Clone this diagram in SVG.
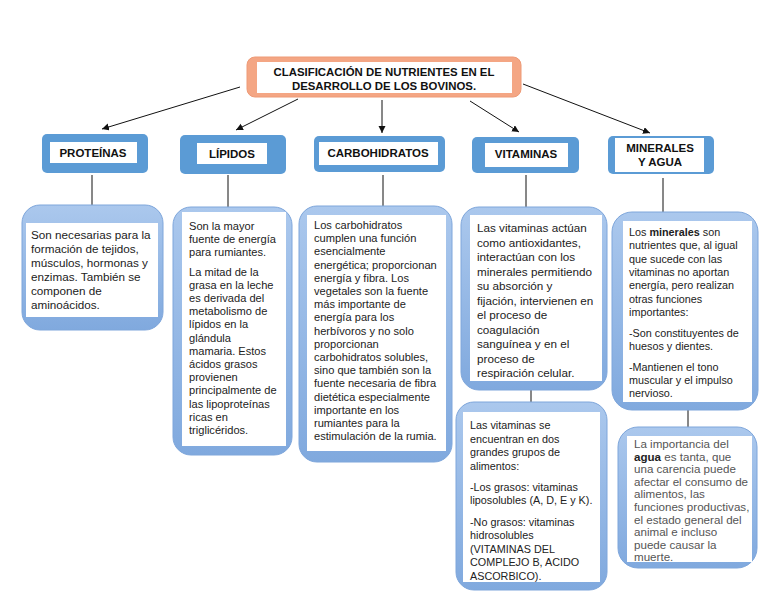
<svg xmlns="http://www.w3.org/2000/svg" width="768" height="594" viewBox="0 0 768 594">
<defs>
<linearGradient id="gb" x1="0" y1="0" x2="0" y2="1">
<stop offset="0" stop-color="#abc8ed"/>
<stop offset="1" stop-color="#80a9de"/>
</linearGradient>
<marker id="ah" markerWidth="8" markerHeight="8" refX="7" refY="3.5" orient="auto" markerUnits="userSpaceOnUse">
<path d="M0,0 L7,3.5 L0,7 Z" fill="#111"/>
</marker>
<style>
text{font-family:"Liberation Sans",Arial,Helvetica,sans-serif;fill:#222}
.h{font-weight:bold;font-size:11.5px;text-anchor:middle;fill:#111}
.t{font-weight:bold;font-size:11.4px;text-anchor:middle;fill:#111}
.hb{fill:#5b9bd5}
.w{fill:#fff}
.cb{fill:url(#gb);stroke:#7ea6db;stroke-width:1}
.b1{font-size:11.7px}
.b2{font-size:10.8px}
.b3{font-size:11.1px}
.ag{fill:#555;font-size:11.6px}
.ln{stroke:#111;stroke-width:1;fill:none}
</style>
</defs>
<rect width="768" height="594" fill="#fff"/>

<g id="connectors">
<line class="ln" x1="240" y1="87" x2="102" y2="129" marker-end="url(#ah)"/>
<line class="ln" x1="298" y1="99" x2="236" y2="130" marker-end="url(#ah)"/>
<line class="ln" x1="382" y1="100" x2="382" y2="133" marker-end="url(#ah)"/>
<line class="ln" x1="470" y1="101" x2="519" y2="132" marker-end="url(#ah)"/>
<line class="ln" x1="523" y1="84" x2="650" y2="133" marker-end="url(#ah)"/>
<line class="ln" x1="92" y1="175" x2="92" y2="205"/>
<line class="ln" x1="228" y1="175" x2="228" y2="207"/>
<line class="ln" x1="383" y1="175" x2="383" y2="206"/>
<line class="ln" x1="526" y1="175" x2="526" y2="207"/>
<line class="ln" x1="663" y1="178" x2="663" y2="212"/>
<line class="ln" x1="531" y1="390" x2="531" y2="403" stroke-width="0.8"/>
<line class="ln" x1="688" y1="408" x2="688" y2="427" stroke-width="0.8"/>
</g>

<g id="title">
<rect x="247" y="57" width="274" height="40" rx="8" fill="#f4a684" stroke="#ee9a76"/>
<rect x="257" y="62" width="255" height="31" class="w"/>
<text class="t" x="384" y="76">CLASIFICACIÓN DE NUTRIENTES EN EL</text>
<text class="t" x="384" y="90">DESARROLLO DE LOS BOVINOS.</text>
</g>

<g id="h-proteinas">
<rect x="42" y="134" width="106" height="39" rx="5" class="hb"/>
<rect x="50" y="142" width="87" height="21" class="w"/>
<text class="h" x="93" y="157">PROTEÍNAS</text>
</g>
<g id="h-lipidos">
<rect x="180" y="135" width="106" height="39" rx="5" class="hb"/>
<rect x="197" y="143" width="70" height="21" class="w"/>
<text class="h" x="232" y="158">LÍPIDOS</text>
</g>
<g id="h-carbohidratos">
<rect x="314" y="136" width="131" height="36" rx="5" class="hb"/>
<rect x="319" y="142" width="119" height="23" class="w"/>
<text class="h" x="378" y="157">CARBOHIDRATOS</text>
</g>
<g id="h-vitaminas">
<rect x="472" y="137" width="107" height="36" rx="5" class="hb"/>
<rect x="485" y="143" width="83" height="24" class="w"/>
<text class="h" x="526" y="158">VITAMINAS</text>
</g>
<g id="h-minerales">
<rect x="608" y="136" width="106" height="38" rx="5" class="hb"/>
<rect x="615" y="138" width="89" height="34" class="w"/>
<text class="h" x="660" y="152">MINERALES</text>
<text class="h" x="660" y="166">Y AGUA</text>
</g>

<g id="c-proteinas">
<rect x="22" y="205" width="141" height="125" rx="18" class="cb"/>
<rect x="26" y="223" width="132" height="94" class="w"/>
<text class="b1"><tspan x="31" y="239">Son necesarias para la</tspan><tspan x="31" y="253">formación de tejidos,</tspan><tspan x="31" y="267">músculos, hormonas y</tspan><tspan x="31" y="281">enzimas. También se</tspan><tspan x="31" y="295">componen de</tspan><tspan x="31" y="309">aminoácidos.</tspan></text>
</g>

<g id="c-lipidos">
<rect x="173" y="207" width="119" height="248" rx="18" class="cb"/>
<rect x="182" y="212" width="104" height="234" class="w"/>
<text class="b3"><tspan x="189" y="230">Son la mayor</tspan><tspan x="189" y="243.2">fuente de energía</tspan><tspan x="189" y="256.4">para rumiantes.</tspan><tspan x="189" y="275.6">La mitad de la</tspan><tspan x="189" y="288.8">grasa en la leche</tspan><tspan x="189" y="302">es derivada del</tspan><tspan x="189" y="315.2">metabolismo de</tspan><tspan x="189" y="328.4">lípidos en la</tspan><tspan x="189" y="341.6">glándula</tspan><tspan x="189" y="354.8">mamaria. Estos</tspan><tspan x="189" y="368">ácidos grasos</tspan><tspan x="189" y="381.2">provienen</tspan><tspan x="189" y="394.4">principalmente de</tspan><tspan x="189" y="407.6">las lipoproteínas</tspan><tspan x="189" y="420.8">ricas en</tspan><tspan x="189" y="434">triglicéridos.</tspan></text>
</g>

<g id="c-carbohidratos">
<rect x="299" y="206" width="153" height="256" rx="18" class="cb"/>
<rect x="307" y="215" width="139" height="236" class="w"/>
<text class="b3"><tspan x="314" y="229">Los carbohidratos</tspan><tspan x="314" y="242.2">cumplen una función</tspan><tspan x="314" y="255.4">esencialmente</tspan><tspan x="314" y="268.6">energética; proporcionan</tspan><tspan x="314" y="281.8">energía y fibra. Los</tspan><tspan x="314" y="295">vegetales son la fuente</tspan><tspan x="314" y="308.2">más importante de</tspan><tspan x="314" y="321.4">energía para los</tspan><tspan x="314" y="334.6">herbívoros y no solo</tspan><tspan x="314" y="347.8">proporcionan</tspan><tspan x="314" y="361">carbohidratos solubles,</tspan><tspan x="314" y="374.2">sino que también son la</tspan><tspan x="314" y="387.4">fuente necesaria de fibra</tspan><tspan x="314" y="400.6">dietética especialmente</tspan><tspan x="314" y="413.8">importante en los</tspan><tspan x="314" y="427">rumiantes para la</tspan><tspan x="314" y="440.2">estimulación de la rumia.</tspan></text>
</g>

<g id="c-vitaminas1">
<rect x="461" y="207" width="146" height="183" rx="18" class="cb"/>
<rect x="470" y="215" width="132" height="166" class="w"/>
<text class="b1"><tspan x="477" y="232">Las vitaminas actúan</tspan><tspan x="477" y="246.5">como antioxidantes,</tspan><tspan x="477" y="261">interactúan con los</tspan><tspan x="477" y="275.5">minerales permitiendo</tspan><tspan x="477" y="290">su absorción y</tspan><tspan x="477" y="304.5">fijación, intervienen en</tspan><tspan x="477" y="319">el proceso de</tspan><tspan x="477" y="333.5">coagulación</tspan><tspan x="477" y="348">sanguínea y en el</tspan><tspan x="477" y="362.5">proceso de</tspan><tspan x="477" y="377">respiración celular.</tspan></text>
</g>

<g id="c-vitaminas2">
<rect x="456" y="402" width="151" height="188" rx="18" class="cb"/>
<rect x="463" y="412" width="137" height="170" class="w"/>
<text class="b2"><tspan x="470" y="429">Las vitaminas se</tspan><tspan x="470" y="442.5">encuentran en dos</tspan><tspan x="470" y="456">grandes grupos de</tspan><tspan x="470" y="469.5">alimentos:</tspan><tspan x="470" y="490.5">-Los grasos: vitaminas</tspan><tspan x="470" y="504">liposolubles (A, D, E y K).</tspan><tspan x="470" y="525.5">-No grasos: vitaminas</tspan><tspan x="470" y="539">hidrosolubles</tspan><tspan x="470" y="552.5">(VITAMINAS DEL</tspan><tspan x="470" y="566">COMPLEJO B, ACIDO</tspan><tspan x="470" y="579.5">ASCORBICO).</tspan></text>
</g>

<g id="c-minerales">
<rect x="612" y="212" width="146" height="198" rx="20" class="cb"/>
<rect x="623" y="221" width="129" height="181" class="w"/>
<text class="b2"><tspan x="629" y="236">Los <tspan font-weight="bold">minerales</tspan> son</tspan><tspan x="629" y="249.3">nutrientes que, al igual</tspan><tspan x="629" y="262.6">que sucede con las</tspan><tspan x="629" y="275.9">vitaminas no aportan</tspan><tspan x="629" y="289.2">energía, pero realizan</tspan><tspan x="629" y="302.5">otras funciones</tspan><tspan x="629" y="315.8">importantes:</tspan><tspan x="629" y="336.5">-Son constituyentes de</tspan><tspan x="629" y="349.8">huesos y dientes.</tspan><tspan x="629" y="370.5">-Mantienen el tono</tspan><tspan x="629" y="383.8">muscular y el impulso</tspan><tspan x="629" y="397.1">nervioso.</tspan></text>
</g>

<g id="c-agua">
<rect x="618" y="427" width="139" height="141" rx="20" class="cb"/>
<rect x="627" y="436" width="125" height="126" class="w"/>
<text class="ag"><tspan x="634" y="448">La importancia del</tspan><tspan x="634" y="460.6"><tspan font-weight="bold" fill="#222">agua</tspan> es tanta, que</tspan><tspan x="634" y="473.2">una carencia puede</tspan><tspan x="634" y="485.8">afectar el consumo de</tspan><tspan x="634" y="498.4">alimentos, las</tspan><tspan x="634" y="511">funciones productivas,</tspan><tspan x="634" y="523.6">el estado general del</tspan><tspan x="634" y="536.2">animal e incluso</tspan><tspan x="634" y="548.8">puede causar la</tspan><tspan x="634" y="561.4">muerte.</tspan></text>
</g>
</svg>
